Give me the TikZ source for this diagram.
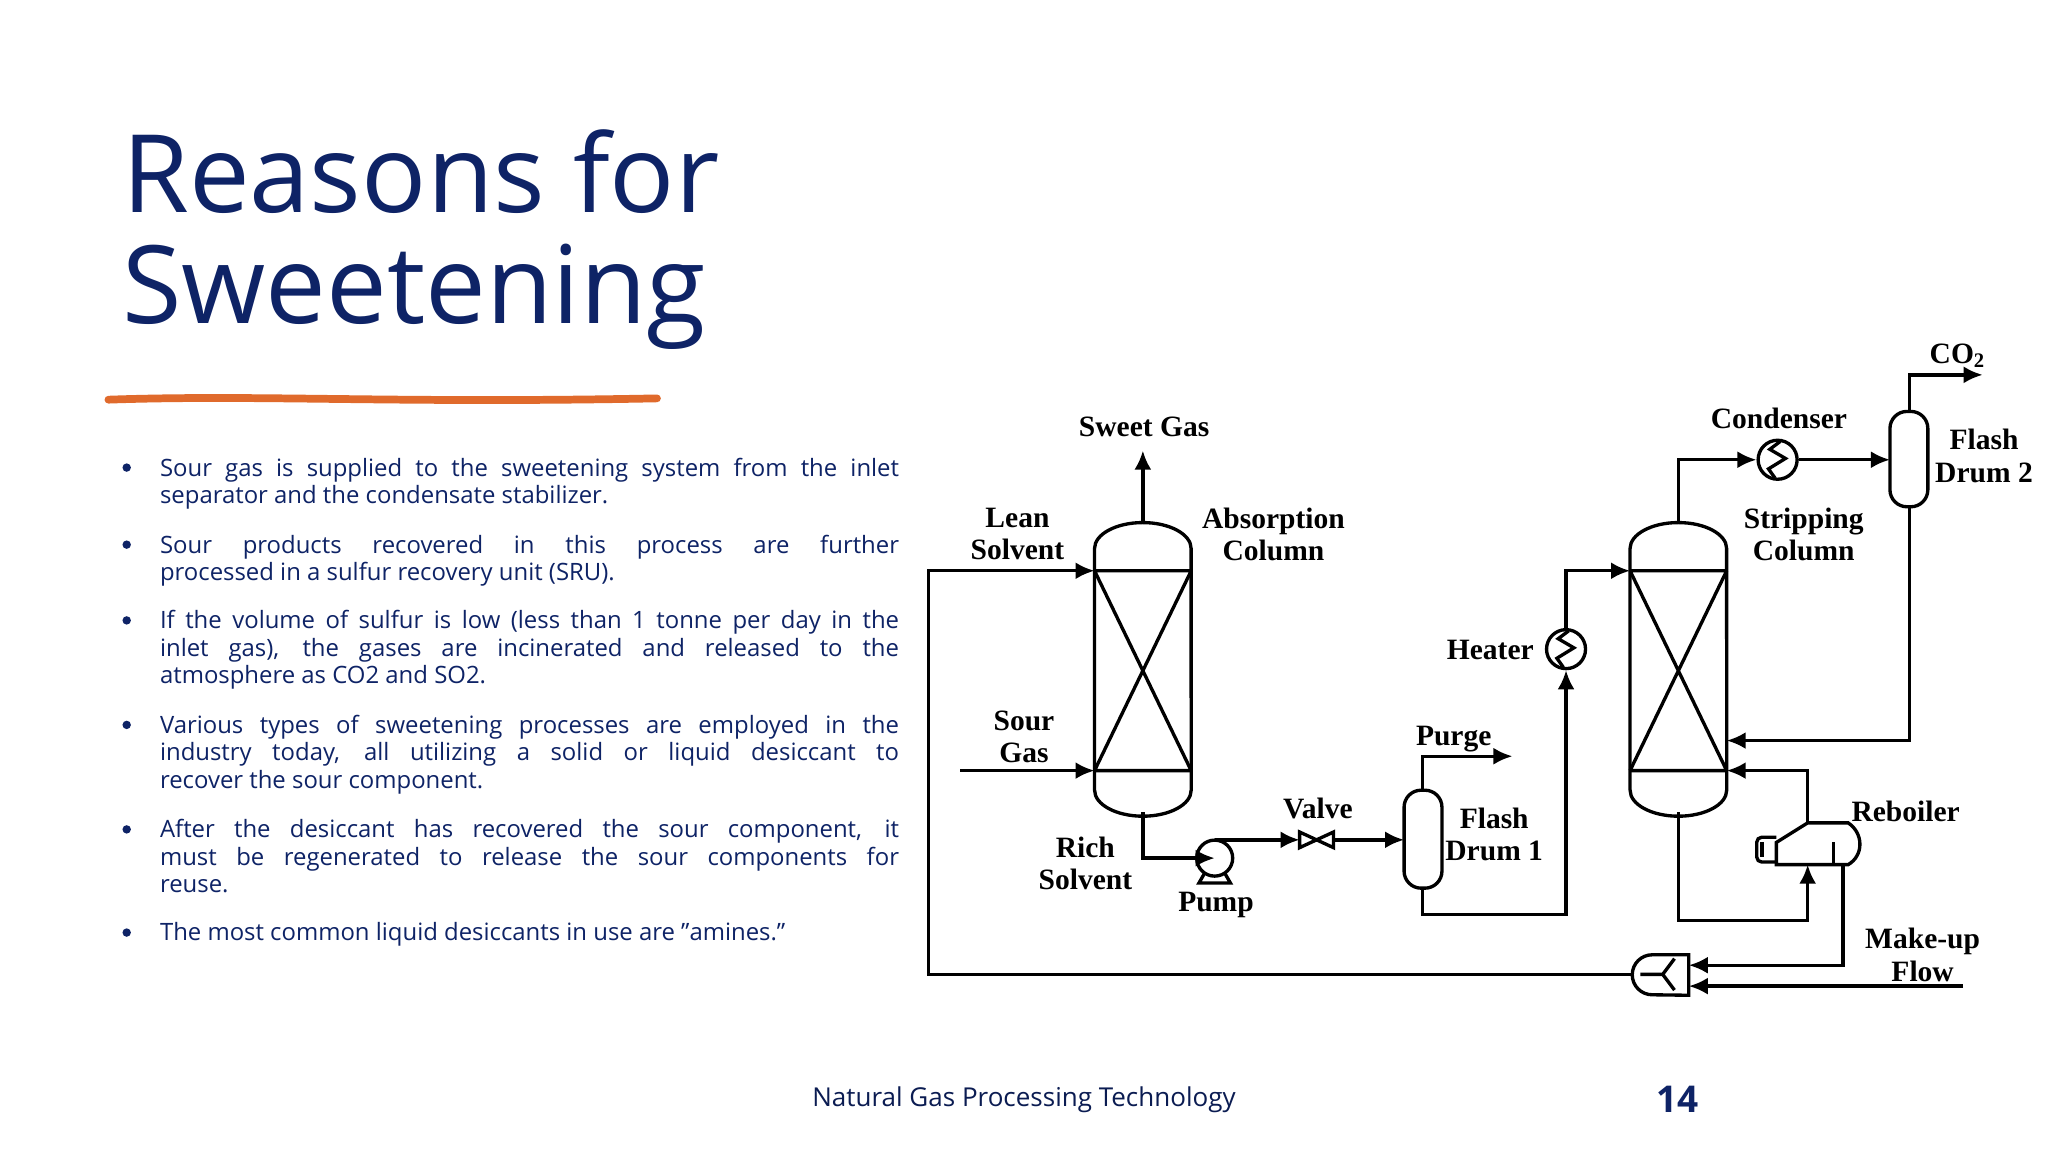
\documentclass[tikz,border=0pt]{standalone}
\usepackage{fontspec}
\setmainfont{Open Sans}
\newfontfamily\diagfont{Liberation Serif}
\usetikzlibrary{arrows.meta}
\definecolor{navy}{HTML}{0E2366}
\definecolor{brush}{HTML}{E06A2C}
\newcommand{\lbl}{\diagfont\bfseries\fontsize{8.4}{9.2}\selectfont}
\newcommand{\bul}{\fontsize{6.8}{7.8}\selectfont}

\begin{document}
\begin{tikzpicture}[x=0.01306cm,y=-0.01306cm,>={Latex[length=1.9mm,width=1.7mm]},
    flow/.style={line width=0.95pt},
    unit/.style={line width=0.95pt},
    tag/.style={font=\lbl,align=center,inner sep=0pt},
    btext/.style={anchor=north west,text width=7.39cm,align=justify,
        inner sep=0pt,font=\bul,text=navy},
    dot/.style={circle,fill=navy,inner sep=0pt,minimum size=2.4pt}]
                \useasboundingbox[fill=white] (0,0) rectangle (1568,882);

                % title and brush line
                \node[anchor=base west,inner sep=0pt,text=navy,
                        font=\fontsize{30.8}{31}\selectfont] (title1) at (93,163) {Reasons for};
                \node[anchor=base west,inner sep=0pt,text=navy,
                        font=\fontsize{30.8}{31}\selectfont] (title2) at (93,248) {Sweetening};
                \draw[brush,line width=2.2pt,line cap=round]
                        (83,306) .. controls (200,302) and (300,309) .. (503,305);

                % bullets
                \foreach \y in {358,417,475,555,635,714}
                    \node[dot] at (97,\y) {};
                \node[btext] (b1) at (122,350) {Sour gas is supplied to the sweetening system from the inlet\linebreak separator and the condensate stabilizer.};
                \node[btext] (b2) at (122,409) {Sour products recovered in this process are further\linebreak processed in a sulfur recovery unit (SRU).};
                \node[btext] (b3) at (122,467) {If the volume of sulfur is low (less than 1 tonne per day in the\linebreak inlet gas), the gases are incinerated and released to the\linebreak atmosphere as CO2 and SO2.};
                \node[btext] (b4) at (122,547) {Various types of sweetening processes are employed in the\linebreak industry today, all utilizing a solid or liquid desiccant to\linebreak recover the sour component.};
                \node[btext] (b5) at (122,627) {After the desiccant has recovered the sour component, it\linebreak must be regenerated to release the sour components for\linebreak reuse.};
                \node[btext] (b6) at (122,706) {The most common liquid desiccants in use are \char"22 amines.\char"22};

                % footer
                \node[font=\fontsize{7.4}{9}\selectfont,text=navy!80!black] (foot) at (784,842) {Natural Gas Processing Technology};
                \node[font=\bfseries\fontsize{10.5}{12}\selectfont,text=navy] (page) at (1284,842) {14};

                % absorption column
                \draw[unit] (838,605) -- (838,420) arc[start angle=180,end angle=0,x radius=0.483cm,y radius=0.26cm]
                        -- (912,605) arc[start angle=0,end angle=-180,x radius=0.483cm,y radius=0.26cm];
                \draw[unit] (838,437) -- (912,437) (838,590) -- (912,590)
                        (838,437) -- (912,590) (912,437) -- (838,590);
                \coordinate (absTop) at (875,400);
                \coordinate (absBot) at (875,622);
                \coordinate (absIn) at (838,437);
                \coordinate (absGas) at (838,590);

                % stripping column
                \draw[unit] (1248,605) -- (1248,420) arc[start angle=180,end angle=0,x radius=0.483cm,y radius=0.26cm]
                        -- (1322,605) arc[start angle=0,end angle=-180,x radius=0.483cm,y radius=0.26cm];
                \draw[unit] (1248,437) -- (1322,437) (1248,590) -- (1322,590)
                        (1248,437) -- (1322,590) (1322,437) -- (1248,590);
                \coordinate (strTop) at (1285,400);
                \coordinate (strBot) at (1285,622);
                \coordinate (strIn) at (1248,437);
                \coordinate (strRef) at (1322,567);
                \coordinate (strReb) at (1322,590);

                % flash drums
                \draw[unit,rounded corners=0.17cm] (1075,605) rectangle (1104,680);
                \coordinate (fd1In) at (1075,643);
                \coordinate (fd1Top) at (1089,605);
                \coordinate (fd1Bot) at (1089,680);
                \draw[unit,rounded corners=0.17cm] (1447,315) rectangle (1476,388);
                \coordinate (fd2In) at (1447,352);
                \coordinate (fd2Top) at (1462,315);
                \coordinate (fd2Bot) at (1462,388);

                % heater and condenser
                \node[unit,draw,circle,minimum size=0.39cm,inner sep=0pt] (heater) at (1199,497) {};
                \node[unit,draw,circle,minimum size=0.39cm,inner sep=0pt] (condenser) at (1361,352) {};
                \foreach \hx in {heater,condenser}
                    \draw[unit,shift={(\hx.center)}] (-2,14) -- (-7,7) -- (6,-1) -- (-6,-8) -- (2,-14);

                % pump
                \node[unit,draw,circle,minimum size=0.36cm,inner sep=0pt] (pump) at (930,657) {};
                \draw[unit] (922,669) -- (918,676) -- (942,676) -- (938,669);
                \coordinate (pumpOut) at (930,643);

                % valve
                \draw[unit] (995,637) -- (1021,649) -- (1021,637) -- (995,649) -- cycle;
                \coordinate (valveIn) at (995,643);
                \coordinate (valveOut) at (1021,643);

                % reboiler
                \draw[unit] (1360,662) -- (1360,645) -- (1384,630) -- (1415,630)
                        .. controls (1427,638) and (1427,655) .. (1415,662) -- cycle;
                \draw[unit,rounded corners=0.05cm] (1360,641) -- (1345,641) -- (1345,660) -- (1360,660);
                \draw[unit] (1349,645) -- (1349,656) (1404,645) -- (1404,662);
                \coordinate (rebTop) at (1384,630);
                \coordinate (rebBot) at (1384,662);
                \coordinate (rebOut) at (1411,662);

                % mixer
                \draw[unit] (1293,731) -- (1265,731) arc[start angle=90,end angle=270,radius=0.2cm]
                        -- (1293,762) -- cycle;
                \draw[unit] (1256,746) -- (1273,746) (1282,734) -- (1273,746) -- (1282,758);
                \coordinate (mixOut) at (1250,746);
                \coordinate (mixIn1) at (1293,739);
                \coordinate (mixIn2) at (1293,755);

                % free ends
                \coordinate (sweetEnd) at (875,345);
                \coordinate (sourStart) at (735,590);
                \coordinate (purgeEnd) at (1158,579);
                \coordinate (co2End) at (1518,287);
                \coordinate (makeupStart) at (1503,755);

                % streams
                \draw[flow,->] (absTop) -- (sweetEnd);
                \draw[flow,->] (sourStart) -- (absGas);
                \draw[flow,->] (mixOut) -- (711,746) |- (absIn);
                \draw[flow,->] (absBot) |- (pump.center);
                \draw[flow,->] (pumpOut) -- (valveIn);
                \draw[flow,->] (valveOut) -- (fd1In);
                \draw[flow,->] (fd1Top) |- (purgeEnd);
                \draw[flow,->] (fd1Bot) |- (1199,700) -- (heater.south);
                \draw[flow,->] (heater.north) |- (strIn);
                \draw[flow,->] (strTop) |- (condenser.west);
                \draw[flow,->] (condenser.east) -- (fd2In);
                \draw[flow,->] (fd2Top) |- (co2End);
                \draw[flow,->] (fd2Bot) |- (strRef);
                \draw[flow,->] (rebTop) |- (strReb);
                \draw[flow,->] (strBot) |- (1384,705) -- (rebBot);
                \draw[flow,->] (rebOut) |- (mixIn1);
                \draw[flow,->] (makeupStart) -- (mixIn2);

                % labels
                \node[tag] (tSweet) at (876,327) {Sweet Gas};
                \node[tag] (tLean) at (779,409) {Lean\\Solvent};
                \node[tag] (tAbs) at (975,409) {Absorption\\Column};
                \node[tag] (tSour) at (784,564) {Sour\\Gas};
                \node[tag] (tRich) at (831,661) {Rich\\Solvent};
                \node[tag] (tPump) at (931,693) {Pump};
                \node[tag] (tValve) at (1009,619) {Valve};
                \node[tag] (tPurge) at (1113,566) {Purge};
                \node[tag] (tFd1) at (1144,639) {Flash\\Drum 1};
                \node[tag] (tHeater) at (1141,498) {Heater};
                \node[tag] (tCond) at (1362,320) {Condenser};
                \node[tag] (tStr) at (1381,409) {Stripping\\Column};
                \node[tag] (tFd2) at (1519,349) {Flash\\Drum 2};
                \node[tag] (tCO2) at (1499,272) {CO\textsubscript{2}};
                \node[tag] (tReb) at (1459,621) {Reboiler};
                \node[tag] (tMake) at (1472,731) {Make-up\\Flow};
            \end{tikzpicture}
\end{document}
